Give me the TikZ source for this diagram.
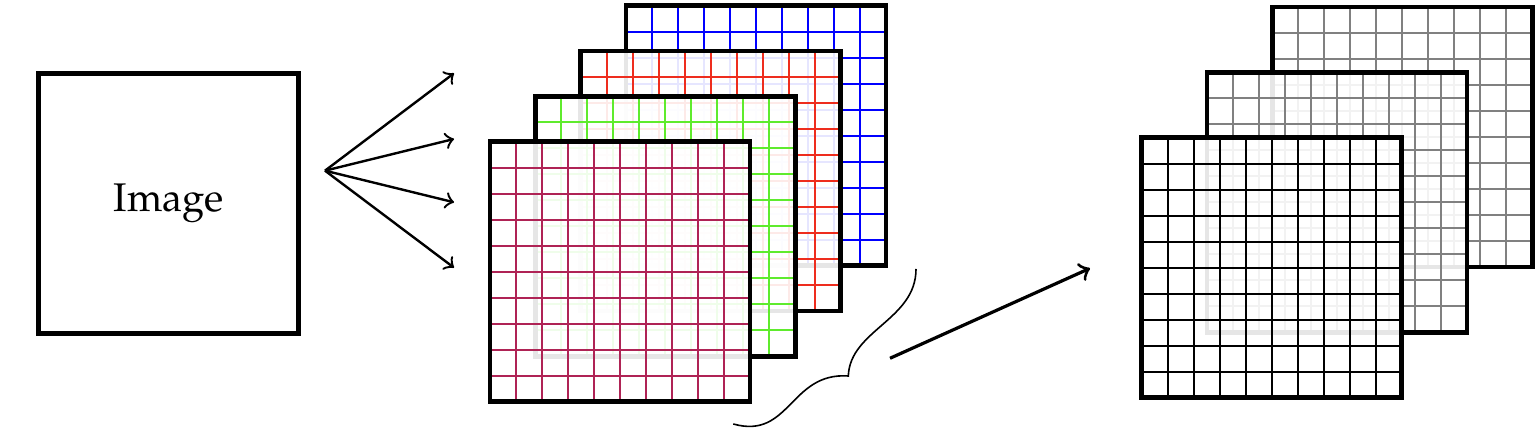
\documentclass[tikz,border=0pt]{standalone}
\usepackage[T1]{fontenc}
\usepackage{mathpazo}
\definecolor{mapblue}{RGB}{0,0,255}
\definecolor{mapred}{RGB}{238,45,30}
\definecolor{mapgreen}{RGB}{95,235,45}
\definecolor{mappurple}{RGB}{175,35,85}
\begin{document}
\begin{tikzpicture}[x=0.25pt,y=0.25pt,
                mapframe/.style={line width=1.2pt},
                gridline/.style={line width=0.5pt},
                paper/.style={fill=white,fill opacity=0.9},
                ray/.style={->,semithick}]
                \useasboundingbox (0,0) rectangle (1540,434);
                \node[draw,mapframe,minimum size=65pt,inner sep=0pt] (img) at (168.7,230.7) {Image};
                \coordinate (fan) at (325,263.3);
                \foreach \y [count=\i] in {360.7,295,231.7,166.3}
                {
                    \coordinate (tip\i) at (454,\y);
                    \draw[ray] (fan) -- (tip\i);
                }
                \foreach \k/\col in {3/mapblue,2/mapred,1/mapgreen,0/mappurple}
                {
                    \fill[paper] (490+45.3*\k,32.3+45.3*\k) rectangle +(260,260);
                    \foreach \i in {1,...,9}
                    {
                        \draw[gridline,\col] (490+45.3*\k+26*\i,32.3+45.3*\k) -- +(0,260);
                        \draw[gridline,\col] (490+45.3*\k,32.3+45.3*\k+26*\i) -- +(260,0);
                    }
                    \draw[mapframe] (490+45.3*\k,32.3+45.3*\k) rectangle +(260,260);
                }
                \foreach \k/\col in {2/gray,1/gray,0/black}
                {
                    \fill[paper] (1141.7+65.3*\k,36.3+65.3*\k) rectangle +(260,260);
                    \foreach \i in {1,...,9}
                    {
                        \draw[gridline,\col] (1141.7+65.3*\k+26*\i,36.3+65.3*\k) -- +(0,260);
                        \draw[gridline,\col] (1141.7+65.3*\k,36.3+65.3*\k+26*\i) -- +(260,0);
                    }
                    \draw[mapframe] (1141.7+65.3*\k,36.3+65.3*\k) rectangle +(260,260);
                }
                % brace under the maps
                \coordinate (br1) at (733.3,10);
                \coordinate (brtip) at (848.3,58);
                \coordinate (br2) at (916,165);
                \draw[thin] (br1) .. controls (790,-6) and (790,62) .. (brtip)
                    .. controls (850,104) and (916,114) .. (br2);
                \coordinate (pool1) at (890,75.7);
                \coordinate (pool2) at (1090,165.7);
                \draw[->,thick] (pool1) -- (pool2);
            \end{tikzpicture}
\end{document}
